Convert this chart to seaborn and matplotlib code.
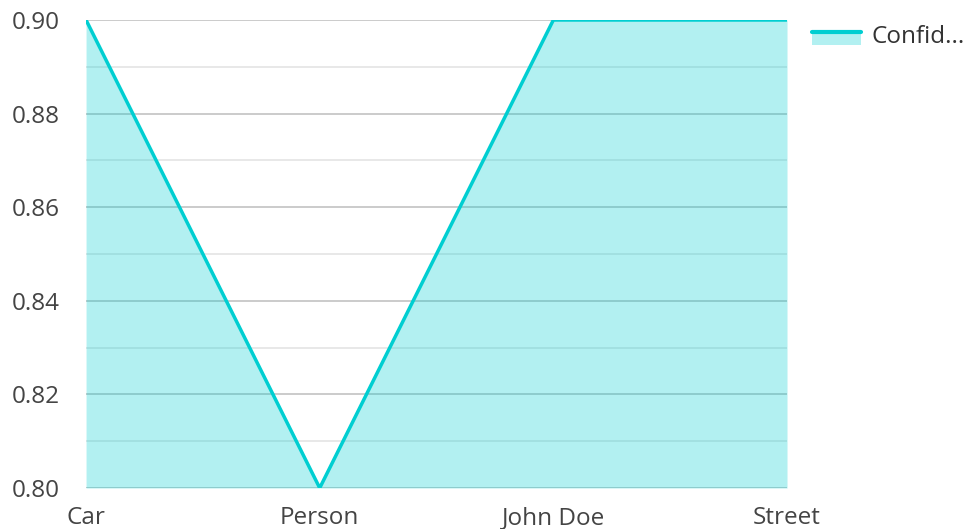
import matplotlib
matplotlib.use("Agg")
import matplotlib.pyplot as plt
import seaborn as sns
import pandas as pd
from matplotlib.lines import Line2D
from matplotlib.patches import Rectangle
from matplotlib.legend_handler import HandlerBase
from matplotlib.ticker import MultipleLocator, FormatStrFormatter

categories = ["Car", "Person", "John Doe", "Street"]
confidence = [0.90, 0.80, 0.90, 0.90]
series_name = "Confid..."

LINE = "#00CED1"

df = pd.DataFrame({"label": categories, "value": confidence})
df["pos"] = range(len(df))


class AreaHandler(HandlerBase):
    # line on top of a filled strip, like the area legend in the reference
    def create_artists(self, legend, orig, xd, yd, width, height, fontsize, trans):
        y_line = -yd + height / 2 + 1.5
        rect = Rectangle((-xd, y_line - 9), width, 9, facecolor=LINE, alpha=0.3,
                         edgecolor="none", transform=trans)
        line = Line2D([-xd, -xd + width], [y_line, y_line], color=LINE,
                      linewidth=3, transform=trans)
        return [rect, line]


sns.set_theme(style="white")
plt.rcParams["font.family"] = ["Open Sans", "DejaVu Sans"]

fig = plt.figure(figsize=(9.69, 5.29), dpi=100)
ax = fig.add_axes([0.0888, 0.0775, 0.7234, 0.8847])

ax.fill_between(df["pos"], df["value"], 0.80, color=LINE, alpha=0.3, linewidth=0, zorder=1)
sns.lineplot(data=df, x="pos", y="value", color=LINE, linewidth=2.5, ax=ax, zorder=3)

ax.set_xlim(0, len(categories) - 1)
ax.set_ylim(0.80, 0.90)
ax.set_xticks(df["pos"], categories)
ax.yaxis.set_major_locator(MultipleLocator(0.02))
ax.yaxis.set_minor_locator(MultipleLocator(0.01))
ax.yaxis.set_major_formatter(FormatStrFormatter("%.2f"))

ax.set_axisbelow(True)
ax.grid(axis="y", which="major", color="#c2c2c2", linewidth=1.2)
ax.grid(axis="y", which="minor", color="#e4e4e4", linewidth=1.2)
ax.grid(axis="x", visible=False)
for s in ax.spines.values():
    s.set_visible(False)

ax.set_xlabel("")
ax.set_ylabel("")
ax.tick_params(axis="both", which="both", length=0, labelsize=17.5, colors="#444444")
ax.tick_params(axis="y", pad=19)
ax.tick_params(axis="x", pad=13)

ax.legend([object()], [series_name], handler_map={object: AreaHandler()},
          loc="upper left", bbox_to_anchor=(1.0357, 0.99), borderpad=0,
          borderaxespad=0, frameon=False, fontsize=17.5, handlelength=2.0,
          handleheight=0.6, labelcolor="#333333", handletextpad=0.45)

fig.savefig("out.png", dpi=100)
